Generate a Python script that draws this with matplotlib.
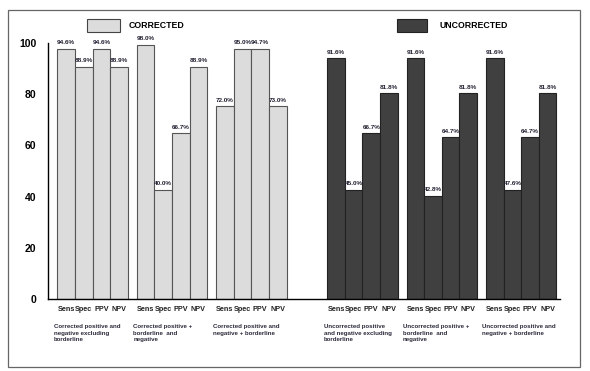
import matplotlib
matplotlib.use("Agg")
import matplotlib.pyplot as plt
from matplotlib.patches import Rectangle
import numpy as np

plt.rcParams['font.family'] = ['Liberation Sans', 'DejaVu Sans']

metrics = ["Sens", "Spec", "PPV", "NPV"]
corrected_groups = ["Corrected positive and\nnegative excluding\nborderline",
                    "Corrected positive +\nborderline  and\nnegative",
                    "Corrected positive and\nnegative + borderline"]
uncorrected_groups = ["Uncorrected positive\nand negative excluding\nborderline",
                      "Uncorrected positive +\nborderline  and\nnegative",
                      "Uncorrected positive and\nnegative + borderline"]

# bar heights as drawn
corrected_values = [[97.7, 90.7, 97.7, 90.7],
                    [99.3, 42.6, 64.7, 90.7],
                    [75.4, 97.7, 97.7, 75.4]]
uncorrected_values = [[94.0, 42.6, 64.7, 80.3],
                      [94.0, 40.4, 63.2, 80.3],
                      [94.0, 42.6, 63.2, 80.3]]
# printed labels
corrected_labels = [["94.6%", "88.9%", "94.6%", "88.9%"],
                    ["98.0%", "40.0%", "66.7%", "88.9%"],
                    ["72.0%", "95.0%", "94.7%", "73.0%"]]
uncorrected_labels = [["91.6%", "45.0%", "66.7%", "81.8%"],
                      ["91.6%", "42.8%", "64.7%", "81.8%"],
                      ["91.6%", "47.6%", "64.7%", "81.8%"]]
yticks = [0, 20, 40, 60, 80, 100]

W, H = 590, 371
fig = plt.figure(figsize=(W / 100, H / 100), dpi=100)
ax = fig.add_axes([48 / W, 1 - 299 / H, (560 - 48) / W, (299 - 43) / H])

light = "#dcdcdc"
dark = "#404040"

corr_starts = [0, 4.5, 9.0]
unc_starts = [15.3, 19.8, 24.3]

def draw(starts, values, labels, groups, fc, ec):
    for s, vals, labs, g in zip(starts, values, labels, groups):
        xs = s + np.arange(4) + 0.5
        ax.bar(xs, vals, width=1.0, color=fc, edgecolor=ec, linewidth=0.8, zorder=2)
        for x, v, l in zip(xs, vals, labs):
            ax.annotate(l, (x, v), xytext=(0, 2.5), textcoords="offset points",
                        ha="center", va="bottom", fontsize=4.6, fontweight="bold",
                        color="#222233")
        for x, m in zip(xs, metrics):
            ax.annotate(m, (x, 0), xytext=(0, -5), textcoords="offset points",
                        ha="center", va="top", fontsize=5.2, fontweight="bold",
                        color="#222222", annotation_clip=False)
        ax.annotate(g, (s - 0.2, 0), xytext=(0, -18), textcoords="offset points",
                    ha="left", va="top", fontsize=4.4, fontweight="bold",
                    color="#2a2a3a", linespacing=1.4, annotation_clip=False)

draw(corr_starts, corrected_values, corrected_labels, corrected_groups, light, "#555555")
draw(unc_starts, uncorrected_values, uncorrected_labels, uncorrected_groups, dark, "#222222")

ax.set_xlim(-0.53, 28.5)
ax.set_ylim(0, 100)
ax.set_yticks(yticks)
ax.set_yticklabels([str(t) for t in yticks], fontsize=7.5, fontweight="bold")
ax.tick_params(axis="y", length=0, pad=8.5)
ax.set_xticks([])
for sp in ["top", "right"]:
    ax.spines[sp].set_visible(False)
ax.spines["left"].set_linewidth(1.0)
ax.spines["bottom"].set_linewidth(1.0)

# legend
fig.patches.append(Rectangle((87 / W, 1 - 32 / H), 33 / W, 13 / H, transform=fig.transFigure,
                             facecolor=light, edgecolor="#444444", linewidth=0.8))
fig.text(129 / W, 1 - 26 / H, "CORRECTED", fontsize=6.3, fontweight="bold", va="center", ha="left")
fig.patches.append(Rectangle((397 / W, 1 - 32 / H), 30 / W, 13 / H, transform=fig.transFigure,
                             facecolor=dark, edgecolor="#222222", linewidth=0.8))
fig.text(439 / W, 1 - 26 / H, "UNCORRECTED", fontsize=6.3, fontweight="bold", va="center", ha="left")

# outer frame
fig.patches.append(Rectangle((8 / W, 1 - 367 / H), (580 - 8) / W, (367 - 10) / H,
                             transform=fig.transFigure, facecolor="none",
                             edgecolor="#666666", linewidth=0.9))

fig.savefig("out.png", dpi=100)
